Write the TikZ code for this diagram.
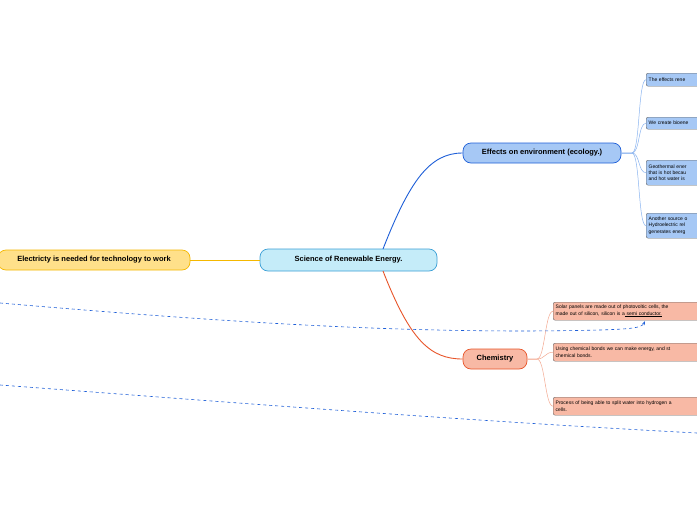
\documentclass[tikz,border=0pt]{standalone}
\usepackage{fontspec}
\setmainfont{Liberation Sans}
\usetikzlibrary{arrows.meta,calc}
\definecolor{cbl}{HTML}{C5ECF9}\definecolor{cbld}{HTML}{3A9FD6}
\definecolor{ye}{HTML}{FFE08A}\definecolor{yed}{HTML}{F5B800}
\definecolor{bl}{HTML}{A6C8F5}\definecolor{bld}{HTML}{1E5FD8}
\definecolor{or}{HTML}{F8B9A5}\definecolor{ord}{HTML}{E8552A}
\definecolor{lbl}{HTML}{8AB4F0}\definecolor{lor}{HTML}{F4A890}
\begin{document}
\begin{tikzpicture}[x=1pt,y=-1pt,
  main/.style={draw,rounded corners=8pt,line width=0.7pt,font=\fontsize{7.5}{9}\selectfont\bfseries,inner sep=0pt},
  leafb/.style={draw=gray!80!black,fill=bl,rounded corners=2pt,anchor=north west,text width=190pt,align=left,inner sep=2.5pt,font=\fontsize{5}{6.2}\selectfont},
  leafo/.style={draw=gray!80!black,fill=or,rounded corners=2pt,anchor=north west,text width=190pt,align=left,inner sep=2.5pt,font=\fontsize{5}{6.2}\selectfont},
  dl/.style={bld,dashed,line width=0.6pt}]
\clip (0,0) rectangle (697,520);
\fill[white] (0,0) rectangle (697,520);
\node[main,fill=cbl,draw=cbld,minimum width=177pt,minimum height=22pt] (c) at (348.5,260) {Science of Renewable Energy.};
\node[main,fill=ye,draw=yed,minimum width=192pt,minimum height=20pt] (y) at (94,260) {Electricty is needed for technology to work};
\node[main,fill=bl,draw=bld,minimum width=158pt,minimum height=20pt] (e) at (542,153) {Effects on environment (ecology.)};
\node[main,fill=or,draw=ord,minimum width=64pt,minimum height=20pt] (ch) at (495,359) {Chemistry};
\draw[yed,line width=0.8pt] (y.east) -- (c.west);
\draw[bld,line width=0.9pt] (383,249) .. controls (410,180) and (430,153) .. (e.west);
\draw[ord,line width=0.9pt] (383,271) .. controls (410,340) and (430,359) .. (ch.west);
\node[leafb,minimum height=13pt] (b1) at (646,73) {The effects rene};
\node[leafb,minimum height=12pt] (b2) at (646,117) {We create bioene};
\node[leafb,minimum height=25pt] (b3) at (646,160) {Geothermal ener\\that is hot becau\\and hot water is};
\node[leafb,minimum height=25pt] (b4) at (646,213) {Another source o\\Hydroelectric rel\\generates energ};
\foreach \n in {b1,b2,b3,b4}\draw[lbl,line width=0.5pt] (e.east) -- (632,153) .. controls (640,153) and ($(\n.west)+(-8,0)$) .. (\n.west);
\node[leafo,minimum height=18pt] (o1) at (553,302) {Solar panels are made out of photovoltic cells, the\\made out of silicon, silicon is a\underline{ semi conductor.}};
\node[leafo,minimum height=18pt] (o2) at (553,343) {Using chemical bonds we can make energy, and st\\chemical bonds.};
\node[leafo,minimum height=18pt] (o3) at (553,397) {Process of being able to split water into hydrogen a\\cells.};
\foreach \n in {o1,o2,o3}\draw[lor,line width=0.5pt] (ch.east) -- (537,359) .. controls (545,359) and ($(\n.west)+(-8,0)$) .. (\n.west);
\coordinate (d1) at (0,303);
\coordinate (a1) at (645,321);
\draw[dl,-{Stealth[length=4pt]}] (d1) .. controls (200,320) and (400,335) .. (600,330) .. controls (630,329) and (642,328) .. (a1);
\coordinate (d2) at (0,385);
\coordinate (d3) at (697,433);
\draw[dl] (d2) .. controls (200,400) and (450,420) .. (d3);
\end{tikzpicture}
\end{document}
